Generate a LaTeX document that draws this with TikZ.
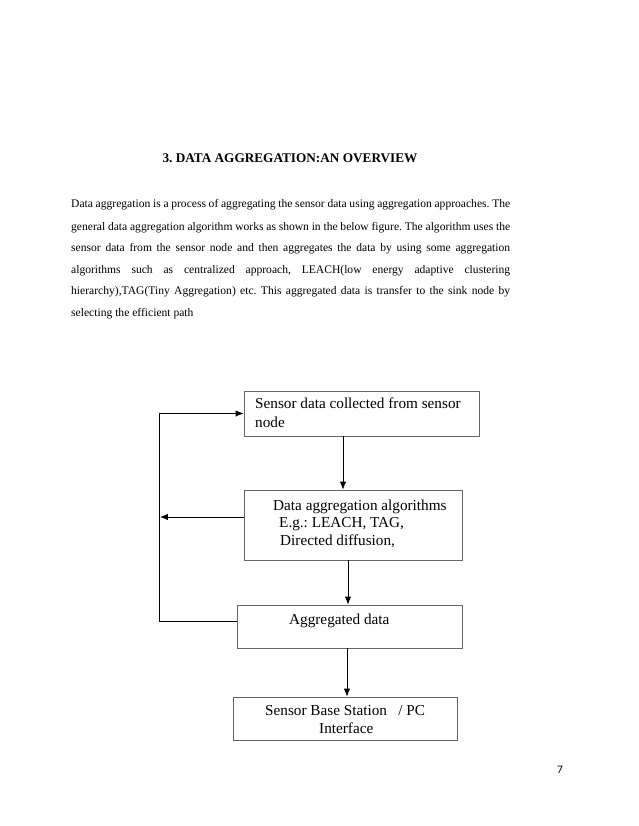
\documentclass[tikz,border=0pt]{standalone}
\usepackage{fontspec}
\setmainfont{Liberation Serif}
\newfontfamily\pagefont{Carlito}
\usetikzlibrary{arrows.meta}
\frenchspacing

\begin{document}
\begin{tikzpicture}[x=0.959pt, y=-0.959pt,
  box/.style={draw=black!60, line width=0.9pt, inner sep=0pt},
  flow/.style={-{Latex[length=7.5pt,width=6pt]}, line width=0.7pt},
  body/.style={anchor=base west, inner sep=0pt, font=\fontsize{11.1}{13}\selectfont},
  label/.style={anchor=base west, inner sep=0pt, font=\fontsize{14.6}{16}\selectfont}]
  \useasboundingbox (0,0) rectangle (638,826);

  % heading and text
  \node [anchor=base, inner sep=0pt, font=\fontsize{12.7}{15}\selectfont\bfseries] (title) at (290,163) {3. DATA AGGREGATION:AN OVERVIEW};
  \node [body] (line1) at (71,208) {\makebox[421pt][s]{Data aggregation is a process of aggregating the sensor data using aggregation approaches. The}};
  \node [body] (line2) at (71,230) {\makebox[421pt][s]{general data aggregation algorithm works as shown in the below figure. The algorithm uses the}};
  \node [body] (line3) at (71,251) {\makebox[421pt][s]{sensor data from the sensor node and then aggregates the data by using some aggregation}};
  \node [body] (line4) at (71,273) {\makebox[421pt][s]{algorithms such as centralized approach, LEACH(low energy adaptive clustering}};
  \node [body] (line5) at (71,294) {\makebox[421pt][s]{hierarchy),TAG(Tiny Aggregation) etc. This aggregated data is transfer to the sink node by}};
  \node [body] (line6) at (71,316) {selecting the efficient path};

  % flow chart
  \node [box, minimum width=225.4pt, minimum height=43.2pt] (collect) at (361.5,413.5) {};
  \node [box, minimum width=209.1pt, minimum height=67.1pt] (algo) at (353,525) {};
  \node [box, minimum width=215.8pt, minimum height=41.2pt] (agg) at (349.5,626.5) {};
  \node [box, minimum width=214.8pt, minimum height=41.2pt] (base) at (345,718.5) {};

  \node [label] (collect1) at (255,408) {Sensor data collected from sensor};
  \node [label] (collect2) at (255,427) {node};
  \node [label] (algo1) at (273,510) {Data aggregation algorithms};
  \node [label] (algo2) at (279,527) {E.g.: LEACH, TAG,};
  \node [label] (algo3) at (280,545) {Directed diffusion,};
  \node [label] (agg1) at (289,624) {Aggregated data};
  \node [label] (base1) at (265,715) {Sensor Base Station\ \ \ / PC};
  \node [label] (base2) at (319,733) {Interface};

  \draw [flow] (343,0 |- collect.south) -- (343,0 |- algo.north);
  \draw [flow] (348,0 |- algo.south) -- (348,0 |- agg.north);
  \draw [flow] (347,0 |- agg.south) -- (347,0 |- base.north);

  % feedback
  \coordinate (corner) at (159,621);
  \coordinate (tap) at (160,517);
  \draw [flow] (agg.west |- corner) -- (corner) -- (corner |- collect.west) -- (collect.west);
  \draw [flow] (algo.west |- tap) -- (tap);

  \node [anchor=base west, inner sep=0pt, font=\pagefont\fontsize{11}{13}\selectfont] (page) at (557,773) {7};
\end{tikzpicture}
\end{document}
